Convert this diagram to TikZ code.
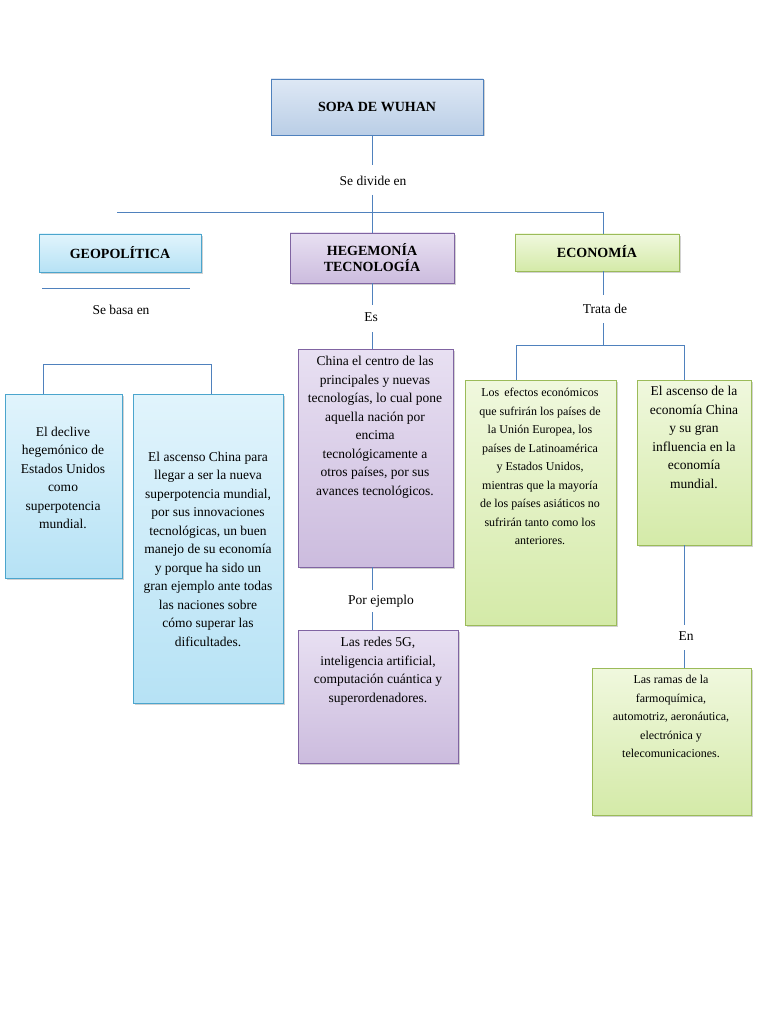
\documentclass[tikz,border=0pt]{standalone}
\usepackage{fontspec}
\setmainfont{Liberation Serif}
\usetikzlibrary{shadows}
\begin{document}
\begin{tikzpicture}[x=1pt,y=-1pt,
 ln/.style={draw={rgb,255:red,79;green,129;blue,189},line width=0.8pt},
 bx/.style={draw,line width=0.8pt,drop shadow={shadow xshift=1.5pt,shadow yshift=-1.5pt,opacity=0.35},inner sep=0pt},
 blu/.style={bx,draw={rgb,255:red,75;green,165;blue,205},top color={rgb,255:red,225;green,244;blue,252},bottom color={rgb,255:red,182;green,226;blue,245}},
 pur/.style={bx,draw={rgb,255:red,128;green,100;blue,162},top color={rgb,255:red,232;green,224;blue,242},bottom color={rgb,255:red,204;green,188;blue,222}},
 grn/.style={bx,draw={rgb,255:red,155;green,187;blue,89},top color={rgb,255:red,240;green,248;blue,222},bottom color={rgb,255:red,212;green,234;blue,168}},
 ttl/.style={bx,draw={rgb,255:red,79;green,129;blue,189},top color={rgb,255:red,222;green,232;blue,245},bottom color={rgb,255:red,186;green,206;blue,230}},
 tx/.style={font=\fontsize{13.5}{18.5}\selectfont,align=center},
 sm/.style={font=\fontsize{12}{18.5}\selectfont,align=center},
 hd/.style={font=\fontsize{14}{16}\selectfont\bfseries,align=center}]
\useasboundingbox (0,0) rectangle (768,1024);
\fill[white] (0,0) rectangle (768,1024);
% boxes
\path[ttl] (271,79) rectangle (483,135);
\node[hd] (t) at (377,107) {SOPA DE WUHAN};
\path[blu] (39,234) rectangle (201,272);
\node[hd] (g) at (120,253) {GEOPOLÍTICA};
\path[pur] (290,233) rectangle (454,283);
\node[hd] (h) at (372,258) {HEGEMONÍA\\TECNOLOGÍA};
\path[grn] (515,234) rectangle (679,271);
\node[hd] (e) at (597,252) {ECONOMÍA};
\path[blu] (5,394) rectangle (122,578);
\node[tx] (b1) at (63,478) {El declive\\hegemónico de\\Estados Unidos\\como\\superpotencia\\mundial.};
\path[blu] (133,394) rectangle (283,703);
\node[tx] (b2) at (208,549) {El ascenso China para\\llegar a ser la nueva\\superpotencia mundial,\\por sus innovaciones\\tecnológicas, un buen\\manejo de su economía\\y porque ha sido un\\gran ejemplo ante todas\\las naciones sobre\\cómo superar las\\dificultades.};
\path[pur] (298,349) rectangle (453,567);
\node[tx,anchor=north] (p1) at (375,353) {China el centro de las\\principales y nuevas\\tecnologías, lo cual pone\\aquella nación por\\encima\\tecnológicamente a\\otros países, por sus\\avances tecnológicos.};
\path[pur] (298,630) rectangle (458,763);
\node[tx,anchor=north] (p2) at (378,634) {Las redes 5G,\\inteligencia artificial,\\computación cuántica y\\superordenadores.};
\path[grn] (465,380) rectangle (616,625);
\node[sm,anchor=north] (g1) at (540,385) {Los\, efectos económicos\\que sufrirán los países de\\la Unión Europea, los\\países de Latinoamérica\\y Estados Unidos,\\mientras que la mayoría\\de los países asiáticos no\\sufrirán tanto como los\\anteriores.};
\path[grn] (637,380) rectangle (751,545);
\node[tx,anchor=north] (g2) at (694,383) {El ascenso de la\\economía China\\y su gran\\influencia en la\\economía\\mundial.};
\path[grn] (592,668) rectangle (751,815);
\node[sm,anchor=north] (g3) at (671,672) {Las ramas de la\\farmoquímica,\\automotriz, aeronáutica,\\electrónica y\\telecomunicaciones.};
% labels
\node[tx] (l1) at (373,181) {Se divide en};
\node[tx] (l2) at (121,310) {Se basa en};
\node[tx] (l3) at (371,317) {Es};
\node[tx] (l4) at (605,309) {Trata de};
\node[tx] (l5) at (381,601) {Por ejemplo};
\node[tx] (l6) at (686,636) {En};
% connectors
\draw[ln] (372,135) -- (372,165);
\draw[ln] (372,195) -- (372,233);
\draw[ln] (117,212) -- (603,212) -- (603,234);
\draw[ln] (42,288) -- (190,288);
\draw[ln] (372,283) -- (372,305);
\draw[ln] (372,332) -- (372,349);
\draw[ln] (603,271) -- (603,295);
\draw[ln] (603,323) -- (603,345);
\draw[ln] (516,380) -- (516,345) -- (684,345) -- (684,380);
\draw[ln] (43,394) -- (43,364) -- (211,364) -- (211,394);
\draw[ln] (372,567) -- (372,590);
\draw[ln] (372,612) -- (372,630);
\draw[ln] (684,545) -- (684,625);
\draw[ln] (684,650) -- (684,668);
\end{tikzpicture}
\end{document}
